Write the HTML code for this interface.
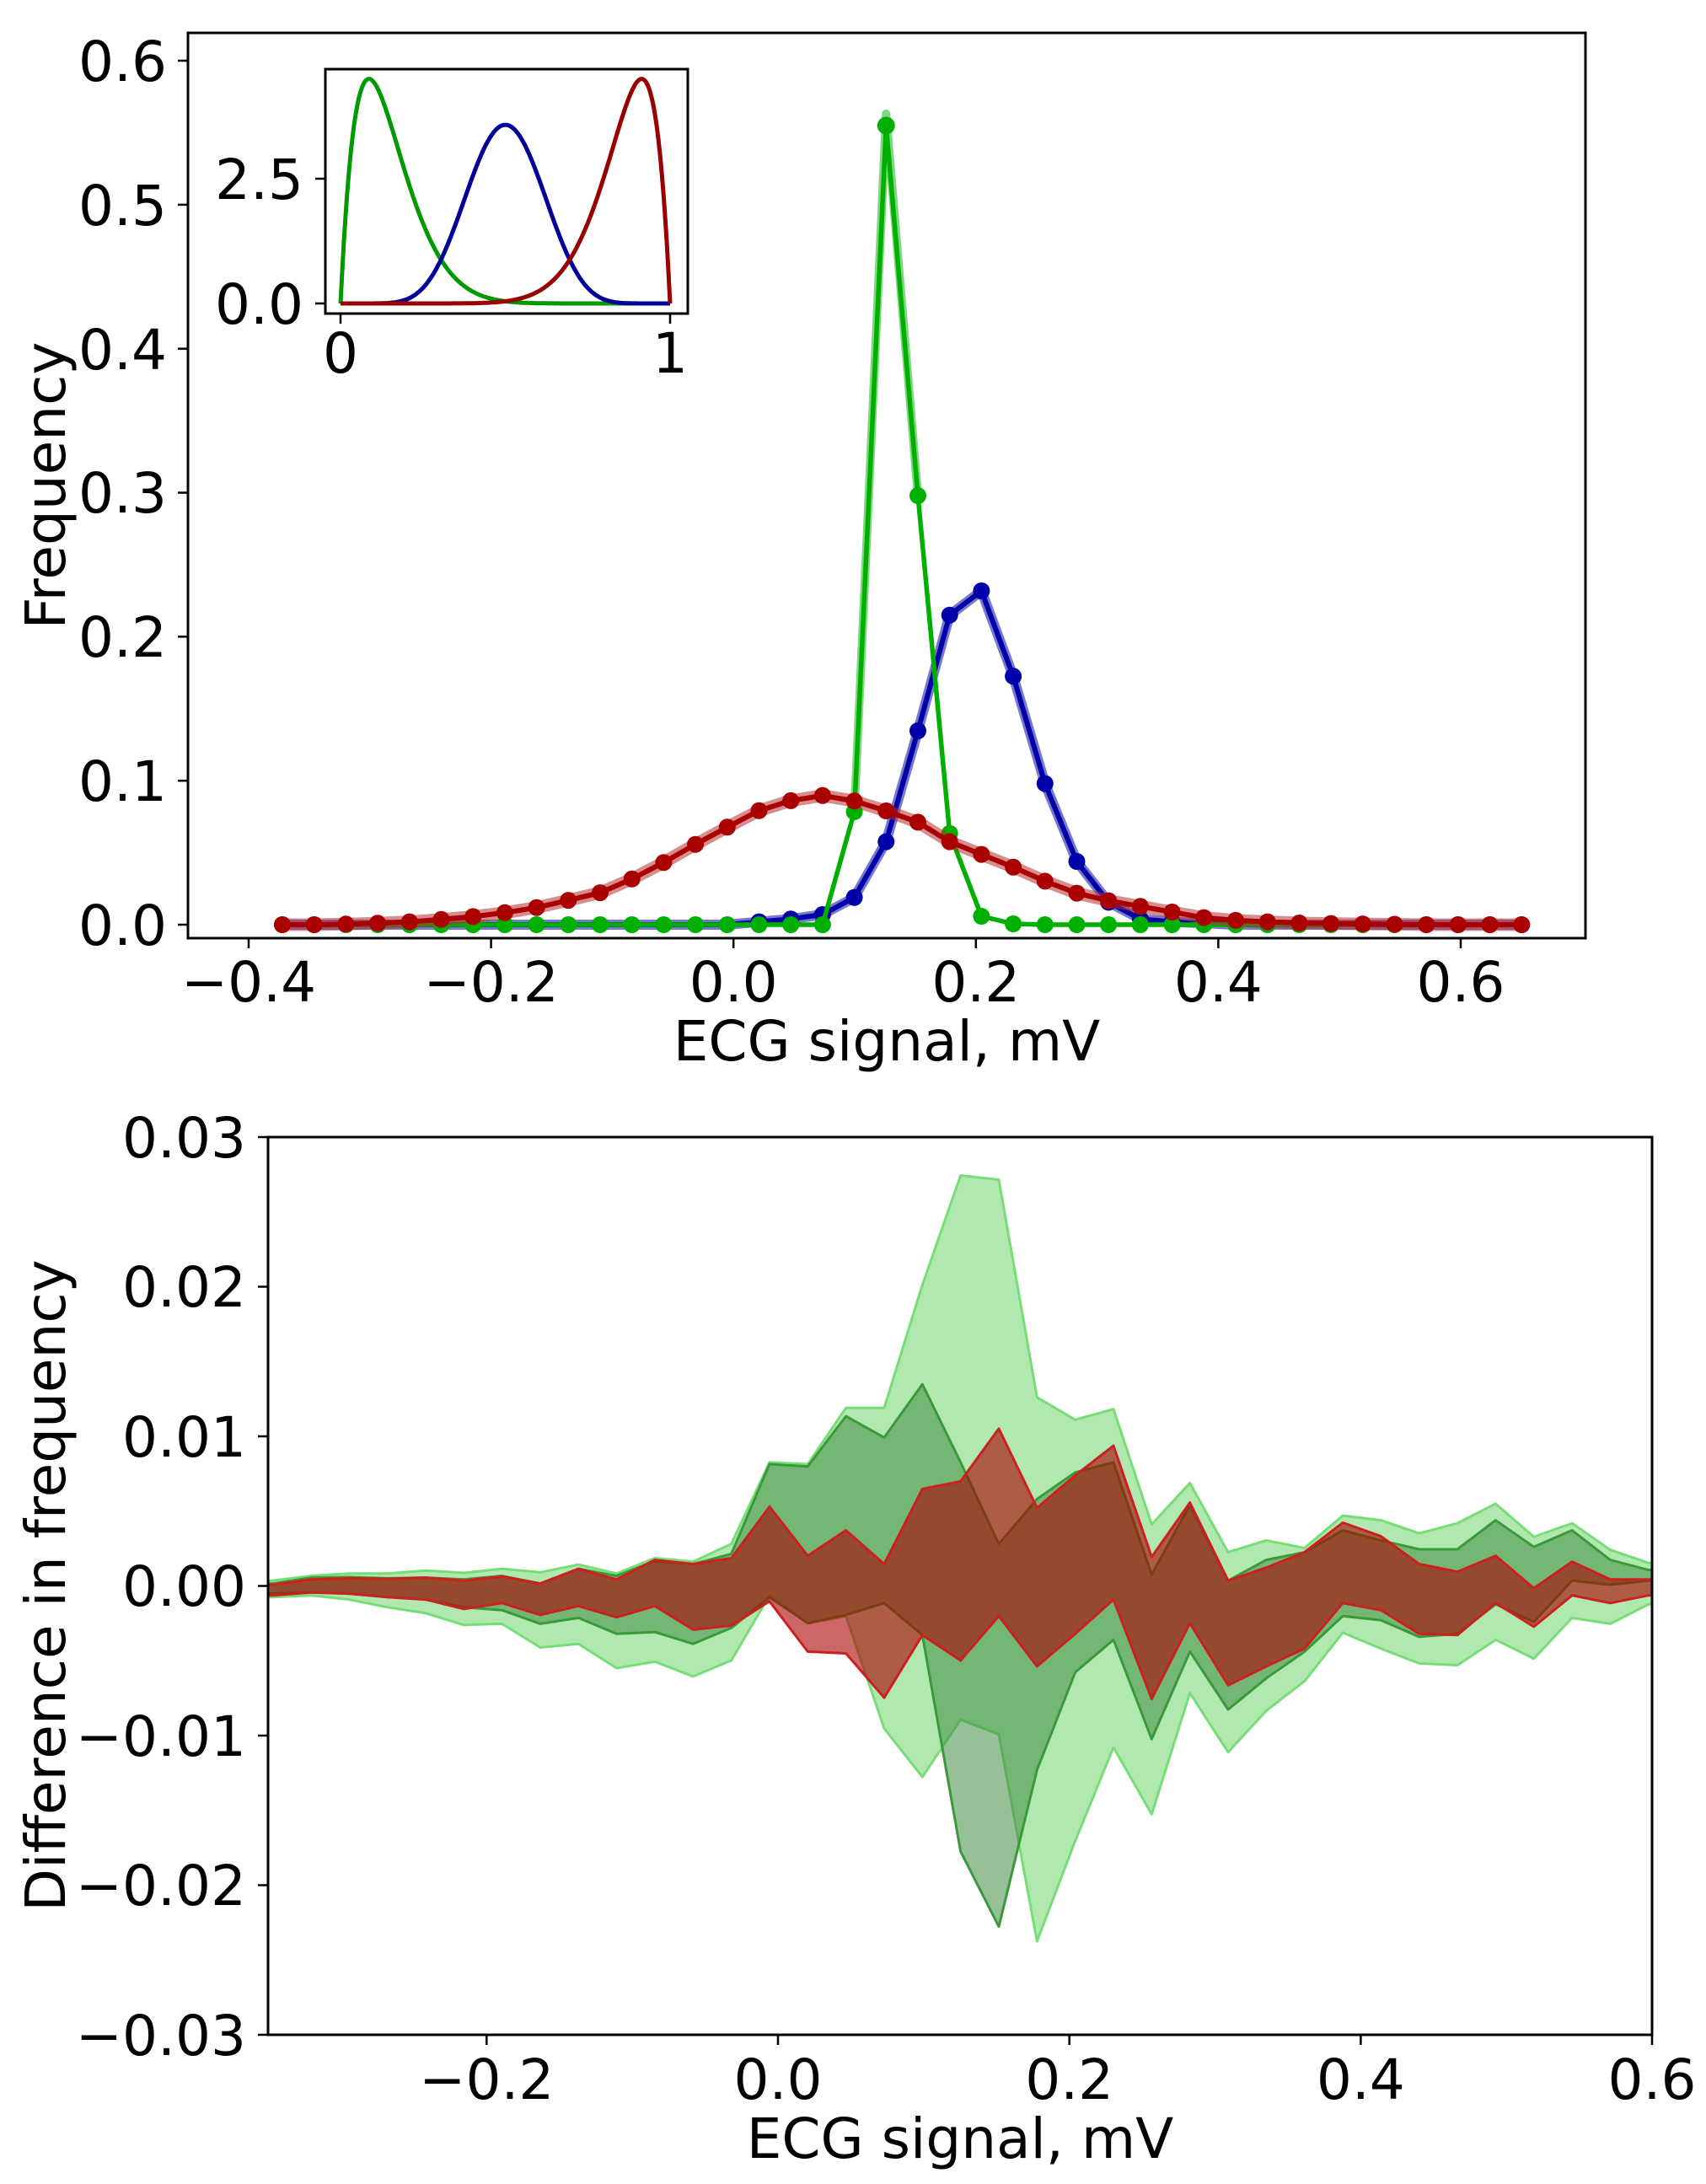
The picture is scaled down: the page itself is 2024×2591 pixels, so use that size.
<!DOCTYPE html>
<html><head><meta charset="utf-8"><style>
html,body{margin:0;padding:0;background:#fff}
svg text{font-family:"DejaVu Sans","Liberation Sans",sans-serif;font-size:66px;fill:#000}
</style></head><body>
<svg width="2024" height="2586" viewBox="0 0 2024 2586" xmlns="http://www.w3.org/2000/svg">
<defs>
<clipPath id="c1"><rect x="223" y="39" width="1658" height="1074"/></clipPath>
<clipPath id="c2"><rect x="318" y="1349" width="1642" height="1065"/></clipPath>
</defs>
<rect width="2024" height="2586" fill="#fff"/>

<!-- ===== TOP PLOT ===== -->
<g clip-path="url(#c1)" stroke-linejoin="round" stroke-linecap="round" fill="none">
<!-- blue -->
<polyline stroke="#2020a8" stroke-opacity="0.6" stroke-width="12" points="335,1097 372.7,1097 410.4,1097 448.1,1097 485.8,1097 523.5,1097 561.2,1097 598.9,1097 636.6,1097 674.3,1097 712,1097 749.7,1097 787.4,1097 825.1,1097 862.8,1097 900.5,1093.6 938.2,1090.2 975.9,1085 1013.6,1064.7 1051.3,998.6 1089,867 1126.7,729.7 1164.4,701 1202.1,802.3 1239.8,929.6 1277.5,1022 1315.2,1070.4 1352.9,1090.2 1390.6,1093.6 1428.3,1095.3 1466,1097 1503.7,1097 1541.4,1097 1579.1,1097 1616.8,1097 1654.5,1097 1692.2,1097 1729.9,1097 1767.6,1097 1805.3,1097"/>
<polyline stroke="#0000aa" stroke-width="6" points="335,1097 372.7,1097 410.4,1097 448.1,1097 485.8,1097 523.5,1097 561.2,1097 598.9,1097 636.6,1097 674.3,1097 712,1097 749.7,1097 787.4,1097 825.1,1097 862.8,1097 900.5,1093.6 938.2,1090.2 975.9,1085 1013.6,1064.7 1051.3,998.6 1089,867 1126.7,729.7 1164.4,701 1202.1,802.3 1239.8,929.6 1277.5,1022 1315.2,1070.4 1352.9,1090.2 1390.6,1093.6 1428.3,1095.3 1466,1097 1503.7,1097 1541.4,1097 1579.1,1097 1616.8,1097 1654.5,1097 1692.2,1097 1729.9,1097 1767.6,1097 1805.3,1097"/>
<g fill="#0000aa" stroke="none">
<circle cx="900.5" cy="1093.6" r="10"/><circle cx="938.2" cy="1090.2" r="10"/><circle cx="975.9" cy="1085" r="10"/><circle cx="1013.6" cy="1064.7" r="10"/><circle cx="1051.3" cy="998.6" r="10"/><circle cx="1089" cy="867" r="10"/><circle cx="1126.7" cy="729.7" r="10"/><circle cx="1164.4" cy="701" r="10"/><circle cx="1202.1" cy="802.3" r="10"/><circle cx="1239.8" cy="929.6" r="10"/><circle cx="1277.5" cy="1022" r="10"/><circle cx="1315.2" cy="1070.4" r="10"/><circle cx="1352.9" cy="1090.2" r="10"/><circle cx="1390.6" cy="1093.6" r="10"/>
</g>
<!-- green -->
<polyline stroke="#00b000" stroke-opacity="0.5" stroke-width="10" points="1013.6,963 1051.3,135 1089,588"/>
<polyline stroke="#00b000" stroke-width="5.5" points="335,1097 372.7,1097 410.4,1097 448.1,1097 485.8,1097 523.5,1097 561.2,1097 598.9,1097 636.6,1097 674.3,1097 712,1097 749.7,1097 787.4,1097 825.1,1097 862.8,1097 900.5,1097 938.2,1097 975.9,1097 1013.6,963 1051.3,149 1089,588 1126.7,988.7 1164.4,1087 1202.1,1096 1239.8,1097 1277.5,1097 1315.2,1097 1352.9,1097 1390.6,1097 1428.3,1097 1466,1097 1503.7,1097 1541.4,1097 1579.1,1097 1616.8,1097 1654.5,1097 1692.2,1097 1729.9,1097 1767.6,1097 1805.3,1097"/>
<g fill="#00b000" stroke="none">
<circle cx="335" cy="1097" r="10"/><circle cx="372.7" cy="1097" r="10"/><circle cx="410.4" cy="1097" r="10"/><circle cx="448.1" cy="1097" r="10"/><circle cx="485.8" cy="1097" r="10"/><circle cx="523.5" cy="1097" r="10"/><circle cx="561.2" cy="1097" r="10"/><circle cx="598.9" cy="1097" r="10"/><circle cx="636.6" cy="1097" r="10"/><circle cx="674.3" cy="1097" r="10"/><circle cx="712" cy="1097" r="10"/><circle cx="749.7" cy="1097" r="10"/><circle cx="787.4" cy="1097" r="10"/><circle cx="825.1" cy="1097" r="10"/><circle cx="862.8" cy="1097" r="10"/><circle cx="900.5" cy="1097" r="10"/><circle cx="938.2" cy="1097" r="10"/><circle cx="975.9" cy="1097" r="10"/><circle cx="1013.6" cy="963" r="10"/><circle cx="1051.3" cy="149" r="10.5"/><circle cx="1089" cy="588" r="10"/><circle cx="1126.7" cy="988.7" r="10"/><circle cx="1164.4" cy="1087" r="10"/><circle cx="1202.1" cy="1096" r="10"/><circle cx="1239.8" cy="1097" r="10"/><circle cx="1277.5" cy="1097" r="10"/><circle cx="1315.2" cy="1097" r="10"/><circle cx="1352.9" cy="1097" r="10"/><circle cx="1390.6" cy="1097" r="10"/><circle cx="1428.3" cy="1097" r="10"/><circle cx="1466" cy="1097" r="10"/><circle cx="1503.7" cy="1097" r="10"/><circle cx="1541.4" cy="1097" r="10"/><circle cx="1579.1" cy="1097" r="10"/><circle cx="1616.8" cy="1097" r="10"/><circle cx="1654.5" cy="1097" r="10"/><circle cx="1692.2" cy="1097" r="10"/><circle cx="1729.9" cy="1097" r="10"/><circle cx="1767.6" cy="1097" r="10"/><circle cx="1805.3" cy="1097" r="10"/>
</g>
<!-- red -->
<polyline stroke="#b83030" stroke-opacity="0.55" stroke-width="15" points="335,1097 372.7,1097 410.4,1096.3 448.1,1095.3 485.8,1093.6 523.5,1090.8 561.2,1087.4 598.9,1082.8 636.6,1076.7 674.3,1068.1 712,1059.1 749.7,1042.8 787.4,1023.2 825.1,1001.7 862.8,981.3 900.5,961.7 938.2,949.9 975.9,943.8 1013.6,950.3 1051.3,962 1089,975.4 1126.7,998.6 1164.4,1013.6 1202.1,1028.7 1239.8,1045.4 1277.5,1059.6 1315.2,1068.6 1352.9,1075.3 1390.6,1082 1428.3,1088.6 1466,1091.9 1503.7,1093.6 1541.4,1095 1579.1,1095.6 1616.8,1096.1 1654.5,1096.5 1692.2,1097 1729.9,1097 1767.6,1097 1805.3,1097"/>
<polyline stroke="#aa0000" stroke-width="6" points="335,1097 372.7,1097 410.4,1096.3 448.1,1095.3 485.8,1093.6 523.5,1090.8 561.2,1087.4 598.9,1082.8 636.6,1076.7 674.3,1068.1 712,1059.1 749.7,1042.8 787.4,1023.2 825.1,1001.7 862.8,981.3 900.5,961.7 938.2,949.9 975.9,943.8 1013.6,950.3 1051.3,962 1089,975.4 1126.7,998.6 1164.4,1013.6 1202.1,1028.7 1239.8,1045.4 1277.5,1059.6 1315.2,1068.6 1352.9,1075.3 1390.6,1082 1428.3,1088.6 1466,1091.9 1503.7,1093.6 1541.4,1095 1579.1,1095.6 1616.8,1096.1 1654.5,1096.5 1692.2,1097 1729.9,1097 1767.6,1097 1805.3,1097"/>
<g fill="#aa0000" stroke="none">
<circle cx="335" cy="1097" r="10"/><circle cx="372.7" cy="1097" r="10"/><circle cx="410.4" cy="1096.3" r="10"/><circle cx="448.1" cy="1095.3" r="10"/><circle cx="485.8" cy="1093.6" r="10"/><circle cx="523.5" cy="1090.8" r="10"/><circle cx="561.2" cy="1087.4" r="10"/><circle cx="598.9" cy="1082.8" r="10"/><circle cx="636.6" cy="1076.7" r="10"/><circle cx="674.3" cy="1068.1" r="10"/><circle cx="712" cy="1059.1" r="10"/><circle cx="749.7" cy="1042.8" r="10"/><circle cx="787.4" cy="1023.2" r="10"/><circle cx="825.1" cy="1001.7" r="10"/><circle cx="862.8" cy="981.3" r="10"/><circle cx="900.5" cy="961.7" r="10"/><circle cx="938.2" cy="949.9" r="10"/><circle cx="975.9" cy="943.8" r="10"/><circle cx="1013.6" cy="950.3" r="10"/><circle cx="1051.3" cy="962" r="10"/><circle cx="1089" cy="975.4" r="10"/><circle cx="1126.7" cy="998.6" r="10"/><circle cx="1164.4" cy="1013.6" r="10"/><circle cx="1202.1" cy="1028.7" r="10"/><circle cx="1239.8" cy="1045.4" r="10"/><circle cx="1277.5" cy="1059.6" r="10"/><circle cx="1315.2" cy="1068.6" r="10"/><circle cx="1352.9" cy="1075.3" r="10"/><circle cx="1390.6" cy="1082" r="10"/><circle cx="1428.3" cy="1088.6" r="10"/><circle cx="1466" cy="1091.9" r="10"/><circle cx="1503.7" cy="1093.6" r="10"/><circle cx="1541.4" cy="1095" r="10"/><circle cx="1579.1" cy="1095.6" r="10"/><circle cx="1616.8" cy="1096.1" r="10"/><circle cx="1654.5" cy="1096.5" r="10"/><circle cx="1692.2" cy="1097" r="10"/><circle cx="1729.9" cy="1097" r="10"/><circle cx="1767.6" cy="1097" r="10"/><circle cx="1805.3" cy="1097" r="10"/>
</g>
</g>
<rect x="223" y="39" width="1658" height="1074" fill="none" stroke="#000" stroke-width="3"/>
<g stroke="#000" stroke-width="2.5">
<line x1="211" y1="1097" x2="223" y2="1097"/><line x1="211" y1="926.2" x2="223" y2="926.2"/><line x1="211" y1="755.3" x2="223" y2="755.3"/><line x1="211" y1="584.5" x2="223" y2="584.5"/><line x1="211" y1="413.7" x2="223" y2="413.7"/><line x1="211" y1="242.9" x2="223" y2="242.9"/><line x1="211" y1="72" x2="223" y2="72"/>
<line x1="295" y1="1113" x2="295" y2="1125"/><line x1="582.6" y1="1113" x2="582.6" y2="1125"/><line x1="870.2" y1="1113" x2="870.2" y2="1125"/><line x1="1157.8" y1="1113" x2="1157.8" y2="1125"/><line x1="1445.4" y1="1113" x2="1445.4" y2="1125"/><line x1="1733" y1="1113" x2="1733" y2="1125"/>
</g>
<g text-anchor="end">
<text x="198" y="1121">0.0</text><text x="198" y="950">0.1</text><text x="198" y="779">0.2</text><text x="198" y="608">0.3</text><text x="198" y="438">0.4</text><text x="198" y="267">0.5</text><text x="198" y="96">0.6</text>
</g>
<g text-anchor="middle">
<text x="295" y="1188">−0.4</text><text x="582.6" y="1188">−0.2</text><text x="870.2" y="1188">0.0</text><text x="1157.8" y="1188">0.2</text><text x="1445.4" y="1188">0.4</text><text x="1733" y="1188">0.6</text>
<text x="1052" y="1258">ECG signal, mV</text>
<text transform="translate(77,576) rotate(-90)" x="0" y="0">Frequency</text>
</g>

<!-- inset -->
<rect x="386" y="82" width="430" height="290" fill="#fff" stroke="none"/>
<g fill="none" stroke-width="5" stroke-linejoin="round">
<path id="ig" stroke="#009900"/>
<path id="ib" stroke="#000099"/>
<path id="ir" stroke="#990000"/>
</g>
<rect x="386" y="82" width="430" height="290" fill="none" stroke="#000" stroke-width="3"/>
<g stroke="#000" stroke-width="2.5">
<line x1="374" y1="360" x2="386" y2="360"/><line x1="374" y1="212" x2="386" y2="212"/>
<line x1="404" y1="372" x2="404" y2="384"/><line x1="795" y1="372" x2="795" y2="384"/>
</g>
<g text-anchor="end"><text x="360" y="384">0.0</text><text x="360" y="236">2.5</text></g>
<g text-anchor="middle"><text x="404" y="442">0</text><text x="795" y="442">1</text></g>

<!-- ===== BOTTOM PLOT ===== -->
<g clip-path="url(#c2)">
<g transform="matrix(45.34,0,0,0.7016,278.2,1320.9)" stroke-linejoin="round">
<polygon fill="#61d161" fill-opacity="0.5" stroke="#77dd77" stroke-width="3" vector-effect="non-scaling-stroke" points="0,792 1,790 2,782 3,778 4,778 5,773 6,777 7,770 8,776 9,763 10,778 11,752 12,758 13,728 14,590 15,593 16,498 17,498 18,290 19,105 20,112 21,480 22,518 23,500 24,695 25,625 26,742 27,722 28,735 29,680 30,688 31,710 32,693 33,660 34,716 35,693 36,738 37,760 38,765 38,825 37,830 36,863 35,853 34,922 33,890 32,933 31,930 30,905 29,878 28,960 27,1010 26,1080 25,980 24,1185 23,1072 22,1230 21,1400 20,1050 19,1025 18,1122 17,1040 16,850 15,862 14,815 13,925 12,952 11,927 10,938 9,897 8,903 7,863 6,865 5,845 4,835 3,822 2,815 1,818 0,818"/>
<polygon fill="#448c44" fill-opacity="0.55" stroke="#3a9a3a" stroke-width="3" vector-effect="non-scaling-stroke" points="0,796 1,795 2,785 3,784 4,786 5,785 6,788 7,782 8,795 9,770 10,782 11,757 12,762 13,745 14,593 15,597 16,512 17,548 18,458 19,590 20,728 21,652 22,607 23,590 24,780 25,662 26,790 27,755 28,742 29,705 30,722 31,737 32,737 33,688 34,733 35,705 36,755 37,772 38,775 38,790 37,790 36,797 35,790 34,860 33,830 32,880 31,885 30,857 29,850 28,910 27,955 26,1008 25,910 24,1058 23,890 22,945 21,1110 20,1375 19,1248 18,882 17,828 16,848 15,862 14,818 13,870 12,897 11,877 10,880 9,853 8,863 7,840 6,835 5,822 4,818 3,812 2,810 1,812 0,812"/>
<polygon fill="#ac0000" fill-opacity="0.6" stroke="#cc2020" stroke-width="3" vector-effect="non-scaling-stroke" points="0,797 1,797 2,788 3,786 4,787 5,785 6,790 7,783 8,795 9,770 10,788 11,755 12,762 13,752 14,665 15,748 16,705 17,762 18,635 19,622 20,533 21,667 22,612 23,562 24,750 25,658 26,790 27,768 28,742 29,692 30,715 31,762 32,775 33,748 34,803 35,758 36,788 37,788 38,788 38,812 37,815 36,828 35,815 34,868 33,828 32,882 31,880 30,840 29,828 28,905 27,935 26,967 25,862 24,990 23,822 22,880 21,935 20,850 19,925 18,882 17,988 16,913 15,910 14,825 13,866 12,873 11,833 10,852 9,833 8,848 7,828 6,838 5,822 4,818 3,812 2,810 1,815 0,815"/>
</g>
</g>
<rect x="318" y="1349" width="1642" height="1065" fill="none" stroke="#000" stroke-width="3"/>
<g stroke="#000" stroke-width="2.5">
<line x1="306" y1="1349" x2="318" y2="1349"/><line x1="306" y1="1526.5" x2="318" y2="1526.5"/><line x1="306" y1="1704" x2="318" y2="1704"/><line x1="306" y1="1881.5" x2="318" y2="1881.5"/><line x1="306" y1="2059" x2="318" y2="2059"/><line x1="306" y1="2236.5" x2="318" y2="2236.5"/><line x1="306" y1="2414" x2="318" y2="2414"/>
<line x1="577.3" y1="2414" x2="577.3" y2="2426"/><line x1="923" y1="2414" x2="923" y2="2426"/><line x1="1268.7" y1="2414" x2="1268.7" y2="2426"/><line x1="1614.4" y1="2414" x2="1614.4" y2="2426"/><line x1="1960" y1="2414" x2="1960" y2="2426"/>
</g>
<g text-anchor="end">
<text x="292" y="1373">0.03</text><text x="292" y="1550">0.02</text><text x="292" y="1728">0.01</text><text x="292" y="1905">0.00</text><text x="292" y="2083">−0.01</text><text x="292" y="2260">−0.02</text><text x="292" y="2438">−0.03</text>
</g>
<g text-anchor="middle">
<text x="577.3" y="2490">−0.2</text><text x="923" y="2490">0.0</text><text x="1268.7" y="2490">0.2</text><text x="1614.4" y="2490">0.4</text><text x="1960" y="2490">0.6</text>
<text x="1139" y="2560">ECG signal, mV</text>
<text transform="translate(77,1881) rotate(-90)" x="0" y="0">Difference in frequency</text>
</g>
</svg>
<script>
(function(){
 function mk(f,peak){var pts=[],mx=0,i,x,v;for(i=0;i<=200;i++){x=i/200;v=f(x);if(v>mx)mx=v;pts.push([x,v]);}
  return pts.map(function(p,k){return (k?'L':'M')+(404+391*p[0]).toFixed(1)+','+(360-59.2*p[1]/mx*peak).toFixed(1);}).join(' ');}
 var g=function(x){return x*Math.pow(1-x,10.6);};
 var r=function(x){return g(1-x);};
 var b=function(x){return Math.pow(x*(1-x),8.5);};
 document.getElementById('ig').setAttribute('d',mk(g,4.5));
 document.getElementById('ir').setAttribute('d',mk(r,4.5));
 document.getElementById('ib').setAttribute('d',mk(b,3.58));
})();
</script>
</body></html>
